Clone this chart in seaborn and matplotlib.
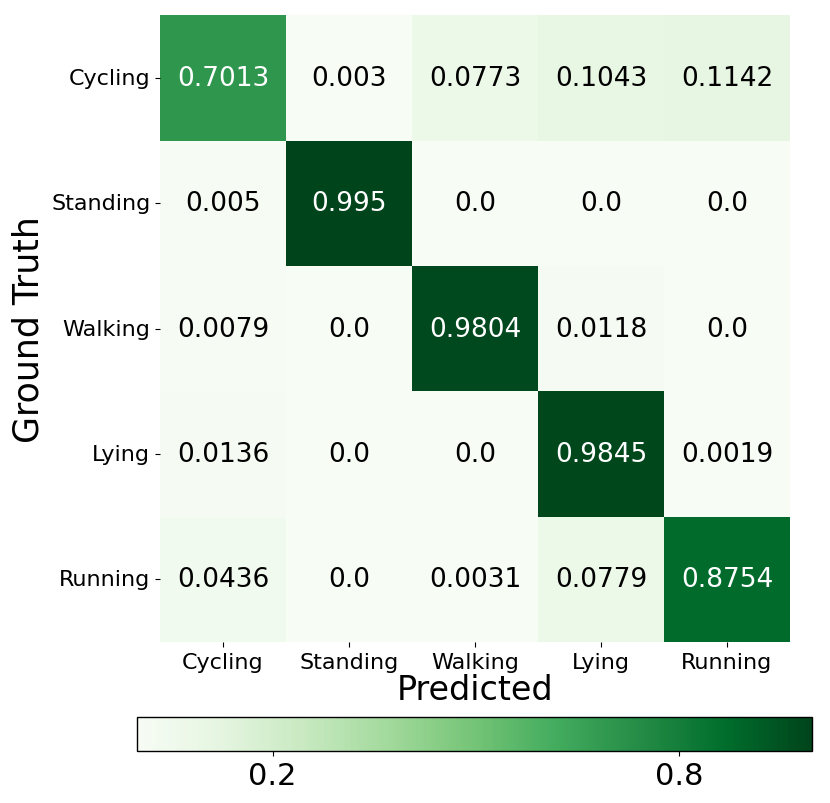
import numpy as np
import seaborn as sns
import matplotlib
matplotlib.use("Agg")
import matplotlib.pyplot as plt

# 类别与混淆矩阵数值
classes = ["Cycling", "Standing", "Walking", "Lying", "Running"]
row_cycling = [0.7013, 0.003, 0.0773, 0.1043, 0.1142]
row_standing = [0.005, 0.995, 0.0, 0.0, 0.0]
row_walking = [0.0079, 0.0, 0.9804, 0.0118, 0.0]
row_lying = [0.0136, 0.0, 0.0, 0.9845, 0.0019]
row_running = [0.0436, 0.0, 0.0031, 0.0779, 0.8754]
cbar_ticks = [0.2, 0.8]

cm = np.array([row_cycling, row_standing, row_walking, row_lying, row_running])
labels = np.array([[str(v) for v in row] for row in cm])

plt.rcParams['font.family'] = ['DejaVu Sans']

fig = plt.figure(figsize=(8.3, 8.04), dpi=100)
ax = fig.add_axes([0.1928, 0.2, 0.759, 0.78])
cax = fig.add_axes([0.165, 0.0647, 0.813, 0.042])

sns.heatmap(cm, annot=labels, fmt='', cmap='Greens', ax=ax, cbar_ax=cax,
            cbar_kws={'orientation': 'horizontal', 'ticks': cbar_ticks},
            annot_kws={'fontsize': 19},
            xticklabels=classes, yticklabels=classes)

# 浅色格子用纯黑文字
for t in ax.texts:
    if t.get_color() != 'w':
        t.set_color('black')

ax.set_xlabel('Predicted', fontsize=24, labelpad=1)
ax.set_ylabel('Ground Truth', fontsize=25)
ax.tick_params(axis='both', labelsize=16)
plt.setp(ax.get_yticklabels(), rotation=0)
plt.setp(ax.get_xticklabels(), rotation=0)

cbar = ax.collections[0].colorbar
cbar.ax.tick_params(labelsize=22)
cbar.outline.set_linewidth(1)
cbar.outline.set_edgecolor('black')

fig.savefig('out.png', dpi=100)
